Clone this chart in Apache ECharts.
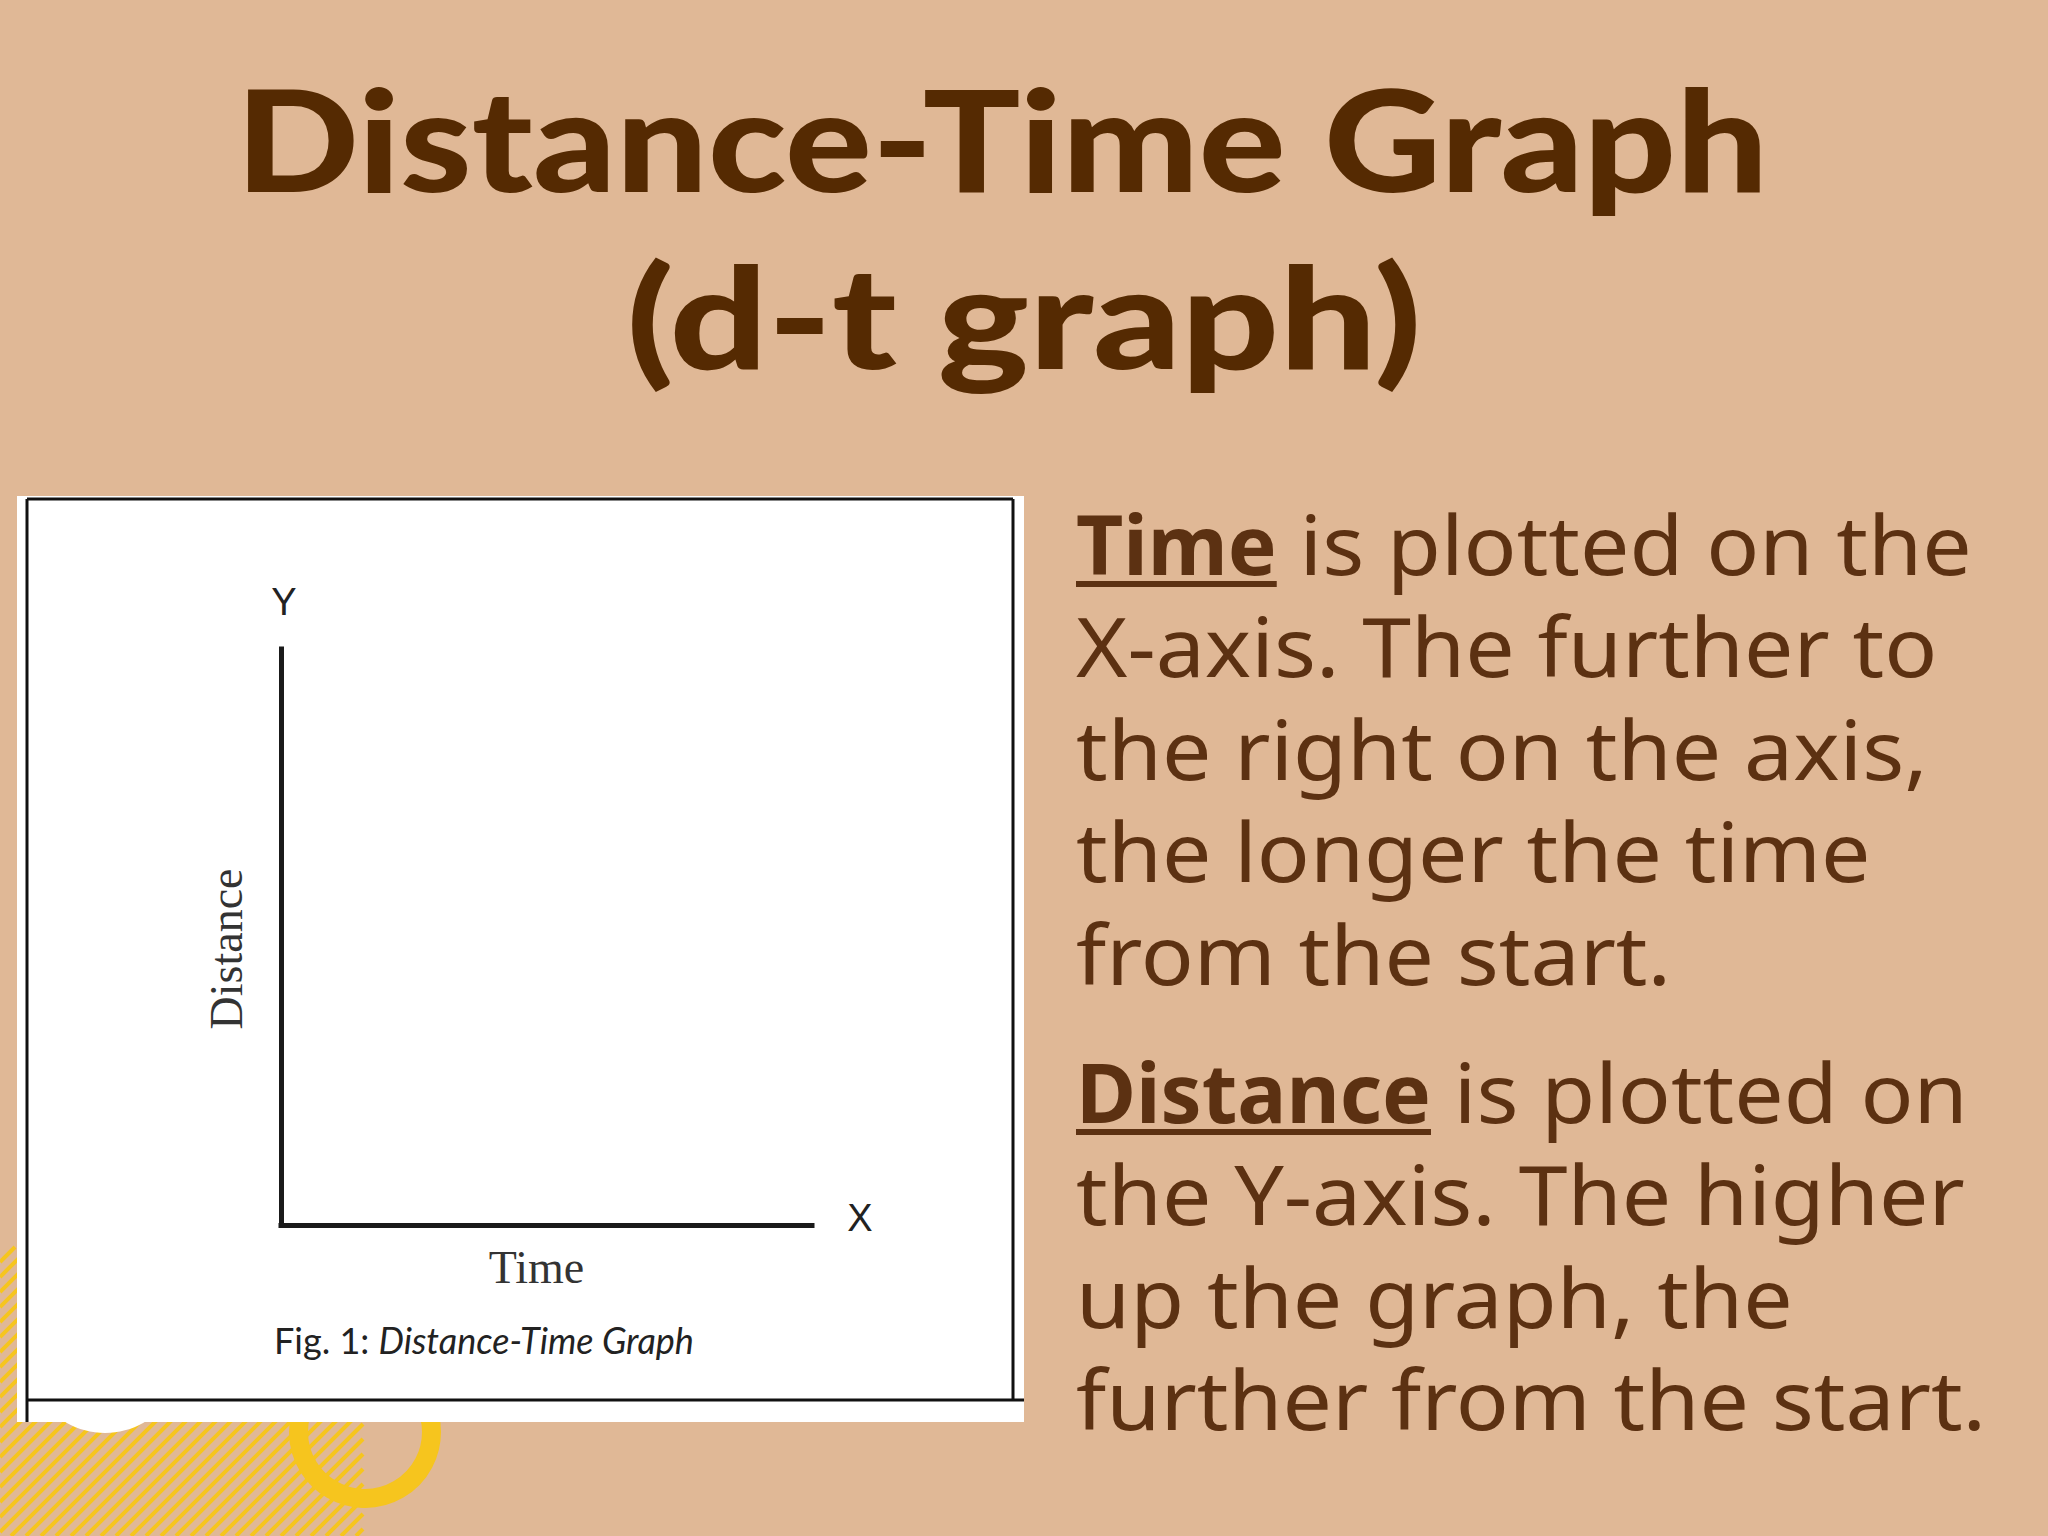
<!DOCTYPE html>
<html><head><meta charset="utf-8">
<script src="https://cdn.jsdelivr.net/npm/echarts@6/dist/echarts.min.js"></script>
<style>html,body{margin:0;padding:0;background:#E0B896}#c{width:2048px;height:1536px}</style>
</head><body><div id="c"></div>
<script>
// ---- content / data ----
const titleLines = ['Distance-Time Graph', '(d-t graph)'];
const xAxisName = 'Time';
const yAxisName = 'Distance';
const xEndLetter = 'X';
const yEndLetter = 'Y';
const captionPlain = 'Fig. 1: ';
const captionItalic = 'Distance-Time Graph';
const xRange = [0, 10];
const yRange = [0, 10];
const distanceValues = [];           // the figure shows empty axes only
const para1Key = 'Time';
const para1Lines = [' is plotted on the', 'X-axis. The further to', 'the right on the axis,', 'the longer the time', 'from the start.'];
const para2Key = 'Distance';
const para2Lines = [' is plotted on', 'the Y-axis. The higher', 'up the graph, the', 'further from the start.'];

// ---- style ----
const BG = '#E0B896', TITLE = '#552A02', BODY = '#5C3112', YEL = '#F6C51E', INK = '#1a1a1a';
const bodyFamily = '"Noto Sans",sans-serif';
const bodySize = 82, lineStep = 102.5, bodyStretch = 1.07;
const textX = 1076;

const chart = echarts.init(document.getElementById('c'), null, {renderer: 'svg', width: 2048, height: 1536});

function measure(txt, font) {
  const c = document.createElement('canvas').getContext('2d');
  c.font = font; return c.measureText(txt).width;
}

const els = [];
// hatch decoration
const hx0 = 0, hx1 = 363, hy0 = 1247, hy1 = 1536;
for (let k = hy0; k <= hx1 + hy1; k += 15) {
  const ax = Math.max(hx0, k - hy1), bx = Math.min(hx1, k - hy0);
  if (bx <= ax) continue;
  els.push({type: 'line', z: 1, silent: true, shape: {x1: ax, y1: k - ax, x2: bx, y2: k - bx}, style: {stroke: YEL, lineWidth: 4}});
}
els.push({type: 'circle', z: 2, silent: true, shape: {cx: 365, cy: 1432, r: 66.5}, style: {fill: 'none', stroke: YEL, lineWidth: 19}});
els.push({type: 'circle', z: 3, silent: true, shape: {cx: 105, cy: 1356, r: 77}, style: {fill: '#fff'}});
// white figure box
els.push({type: 'rect', z: 4, silent: true, shape: {x: 17, y: 496, width: 1007, height: 926}, style: {fill: '#fff'}});
const bl = {stroke: '#111', lineWidth: 3};
els.push({type: 'line', z: 5, silent: true, shape: {x1: 27, y1: 499, x2: 27, y2: 1422}, style: bl});
els.push({type: 'line', z: 5, silent: true, shape: {x1: 27, y1: 499, x2: 1013, y2: 499}, style: bl});
els.push({type: 'line', z: 5, silent: true, shape: {x1: 1013, y1: 499, x2: 1013, y2: 1400}, style: bl});
els.push({type: 'line', z: 5, silent: true, shape: {x1: 27, y1: 1400, x2: 1024, y2: 1400}, style: bl});

// axis end letters & caption
const letterStyle = {fill: '#222', fontFamily: '"Liberation Sans",Arial,sans-serif', fontSize: 38, align: 'center', verticalAlign: 'middle', textAlign: 'center', textVerticalAlign: 'middle'};
els.push({type: 'text', z: 20, x: 284, y: 602, style: Object.assign({text: yEndLetter}, letterStyle)});
els.push({type: 'text', z: 20, x: 860, y: 1218, style: Object.assign({text: xEndLetter}, letterStyle)});
els.push({type: 'text', z: 20, x: 484, y: 1340, style: {
  text: '{n|' + captionPlain + '}{i|' + captionItalic + '}',
  align: 'center', verticalAlign: 'middle', textAlign: 'center', textVerticalAlign: 'middle',
  rich: {
    n: {fontFamily: 'Lato,"Open Sans",sans-serif', fontSize: 36, fill: '#222', color: '#222'},
    i: {fontFamily: 'Lato,"Open Sans",sans-serif', fontSize: 36, fontStyle: 'italic', fill: '#222', color: '#222'}
  }}});

// titles
const titleCenters = [[1002, 137], [1024, 314]];
const titleStretch = [1.15, 1.22];
titleLines.forEach((t, i) => {
  els.push({type: 'text', z: 20, x: titleCenters[i][0], y: titleCenters[i][1], scaleX: titleStretch[i], style: {
    text: t, fill: TITLE, fontFamily: 'Lato,"Noto Sans",sans-serif', fontWeight: 900, fontSize: 141,
    align: 'center', verticalAlign: 'middle', textAlign: 'center', textVerticalAlign: 'middle'}});
});

// paragraphs
function addParagraph(key, lines, firstCenter) {
  const boldFont = 'bold ' + bodySize + 'px "Noto Sans"';
  const kw = measure(key, boldFont);
  const base = {verticalAlign: 'middle', textVerticalAlign: 'middle', align: 'left', textAlign: 'left',
    fontFamily: bodyFamily, fontSize: bodySize, fill: BODY};
  els.push({type: 'text', z: 20, x: textX, y: firstCenter, style: Object.assign({}, base, {text: key, fontWeight: 'bold'})});
  lines.forEach((ln, i) => {
    const y = firstCenter + i * lineStep;
    els.push({type: 'text', z: 20, x: i === 0 ? textX + kw : textX, y: y, scaleX: bodyStretch,
      style: Object.assign({}, base, {text: ln})});
  });
  els.push({type: 'line', z: 20, silent: true, shape: {x1: textX, y1: firstCenter + 41, x2: textX + kw, y2: firstCenter + 41}, style: {stroke: BODY, lineWidth: 6}});
}
addParagraph(para1Key, para1Lines, 543);
addParagraph(para2Key, para2Lines, 1091);

const axisCommon = {
  z: 10,
  axisTick: {show: false}, axisLabel: {show: false}, splitLine: {show: false},
  axisLine: {show: true, onZero: false, lineStyle: {color: INK, width: 5, cap: 'square'}},
  nameLocation: 'middle'
};
const nameFont = {fontFamily: '"Liberation Serif","Times New Roman",serif', fontSize: 46, color: '#333'};

chart.setOption({
  backgroundColor: BG,
  animation: false,
  grid: {left: 281, top: 649, width: 531, height: 576, containLabel: false, outerBoundsMode: 'none'},
  xAxis: Object.assign({type: 'value', min: xRange[0], max: xRange[1], name: xAxisName, nameGap: 19,
    nameTextStyle: Object.assign({padding: [0, 20, 0, 0]}, nameFont)}, axisCommon),
  yAxis: Object.assign({type: 'value', min: yRange[0], max: yRange[1], name: yAxisName, nameGap: 32,
    nameTextStyle: Object.assign({padding: [0, 24, 0, 0]}, nameFont)}, axisCommon),
  series: [{type: 'line', data: distanceValues, symbol: 'none'}],
  graphic: {elements: els}
});
</script>
</body></html>
